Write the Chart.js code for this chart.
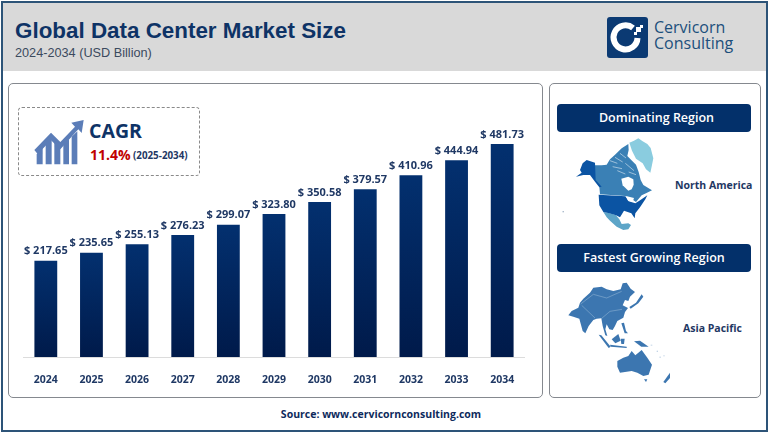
<!DOCTYPE html>
<html>
<head>
<meta charset="utf-8">
<title>Global Data Center Market Size</title>
<script src="https://cdn.jsdelivr.net/npm/chart.js@4"></script>
<style>
    html, body { margin: 0; padding: 0; background: #fff; }
    #page { position: relative; width: 768px; height: 432px; overflow: hidden; font-family: "Open Sans", sans-serif; }
    #page > * { position: absolute; }
    .frame { left: 1px; top: 1px; width: 763px; height: 427px; border: 2px solid #2d5478; z-index: 5; }
    .header { left: 2px; top: 2px; width: 764px; height: 69px; background: #d9d9d9; }
    .title { left: 15px; top: 18px; font: bold 22.4px "Liberation Sans", sans-serif; color: #0e3366; white-space: nowrap; }
    .subtitle { left: 15px; top: 46px; font: 12.7px "Liberation Sans", sans-serif; color: #3b4a5e; white-space: nowrap; }
    .brand { left: 654px; font: 16px "Open Sans", sans-serif; color: #1c4f7c; line-height: 17px; white-space: nowrap; }
    .panel { border: 1px solid #85898f; border-radius: 5px; box-sizing: border-box; background: #fff; }
    .cagr { left: 18px; top: 107px; width: 182px; height: 69px; box-sizing: border-box; border: 1px dashed #8a8a8a; border-radius: 4px; }
    .pill { left: 557px; width: 194px; height: 28px; line-height: 27px; background: #03306a; border-radius: 4px; color: #fff; font-weight: 600; font-size: 12.5px; text-align: center; }
    .region { font-weight: 700; font-size: 10.5px; color: #1f3864; white-space: nowrap; }
    .source { left: 0; width: 762px; top: 407px; text-align: center; font-weight: 700; font-size: 10.5px; color: #0e2a5c; }
    svg { display: block; }
</style>
</head>
<body>
<div id="page">
    <div class="header"></div>
    <div class="title">Global Data Center Market Size</div>
    <div class="subtitle">2024-2034 (USD Billion)</div>

    <!-- logo mark -->
    <svg style="left:607px;top:17px" width="41" height="41" viewBox="0 0 41 41">
        <rect width="41" height="41" rx="3" fill="#0b3a73"/>
        <path d="M26 11 A12 12 0 1 0 30.5 21" fill="none" stroke="#fff" stroke-width="6"/>
        <rect x="29" y="10" width="5" height="5" fill="#fff"/>
        <rect x="33" y="8" width="3" height="3" fill="#fff"/>
        <rect x="27" y="15" width="3" height="3" fill="#fff"/>
    </svg>
    <div class="brand" style="top:19px">Cervicorn</div>
    <div class="brand" style="top:35px">Consulting</div>

    <div class="panel" style="left:8px;top:83px;width:535px;height:315px"></div>
    <div class="panel" style="left:549px;top:83px;width:212px;height:315px"></div>

    <div class="cagr"></div>
    <!-- rising bars icon -->
    <svg style="left:25px;top:110px" width="65" height="60" viewBox="0 0 195 180" fill="#5b7db8">
        <path d="M35 132 L53 112 V163 H35 Z"/>
        <path d="M62 102 L80 84 V163 H62 Z"/>
        <path d="M88 92 L106 110 V163 H88 Z"/>
        <path d="M115 104 L132 88 V163 H115 Z"/>
        <path d="M140 80 L157 64 V163 H140 Z"/>
        <path d="M28 120 L78 68 L106 96 L150 50 L139 38 L176 30 L170 69 L160 58 L106 118 L78 91 L38 132 Z"/>
    </svg>
    <div style="left:89px;top:117px;font-weight:700;font-size:19.5px;line-height:28px;color:#0e3366">CAGR</div>
    <div style="left:90px;top:145px;font-weight:700;font-size:14px;line-height:20px;color:#c00000">11.4%</div>
    <div style="left:133px;top:149px;font-weight:700;font-size:9.8px;line-height:14px;color:#1f3864;white-space:nowrap">(2025-2034)</div>

    <canvas id="chart" width="502" height="280" style="left:23px;top:110px"></canvas>

    <div class="pill" style="top:104px;text-indent:5px">Dominating Region</div>
    <!-- North America: Greenland, Canada, Alaska and the lower states, Mexico -->
    <svg style="left:560px;top:130px" width="110" height="110" viewBox="0 0 330 330">
        <path fill="#8accdf" d="M208 38 L222 32 L235 25 L248 34 L262 42 L272 54 L280 85 L276 105 L271 128 L258 118 L248 100 L228 86 L216 62 Z"/>
        <path fill="#3a80b5" d="M104 106 L125 106 L140 104 L150 88 L165 74 L185 55 L205 42 L206 60 L202 78 L216 92 L228 104 L236 126 L242 150 L250 165 L276 181 L258 190 L245 196 L228 216 L214 206 L196 198 L120 193 L118 170 L105 150 Z"/>
        <path fill="none" stroke="#fff" stroke-width="1.5" d="M150 92 L172 100 M165 82 L188 96 M180 70 L198 84 M158 110 L186 116 M196 100 L222 122 M172 122 L196 132 M206 126 L228 134"/>
        <path fill="#fff" d="M184 146 L205 140 L220 148 L221 164 L215 178 L205 182 L188 166 Z"/>
        <path fill="#0b54a3" d="M60 120 L68 100 L80 90 L105 98 L107 150 L125 170 L118 172 L105 155 L90 135 L70 135 L48 140 L65 128 Z"/>
        <path fill="#5da5c8" d="M130 246 L150 250 L168 256 L178 268 L185 282 L205 280 L213 285 L205 298 L190 300 L170 290 L150 272 L140 262 Z"/>
        <path fill="#0b54a3" d="M116 194 L196 199 L206 214 L226 220 L238 212 L262 196 L256 208 L240 232 L226 250 L224 265 L214 250 L192 242 L180 262 L168 256 L148 250 L130 246 L118 226 Z"/>
        <path fill="#fff" d="M198 198 L222 204 L218 215 L204 212 Z"/>
        <path fill="#5a7a9a" d="M8 244 h3 v3 h-3 Z"/>
    </svg>
    <div class="region" style="left:675px;top:178px">North America</div>

    <div class="pill" style="top:244px">Fastest Growing Region</div>
    <!-- Asia Pacific: mainland, island chains, Australia, New Zealand -->
    <svg style="left:560px;top:276px" width="110" height="110" viewBox="0 0 330 330" fill="#3c76b0">
        <path d="M25 118 L35 105 L55 95 L60 80 L70 68 L90 50 L100 35 L125 32 L140 40 L160 45 L182 40 L188 22 L200 20 L212 38 L225 48 L210 62 L205 75 L195 72 L188 88 L204 96 L195 108 L190 125 L172 135 L165 150 L158 162 L148 160 L140 145 L136 160 L142 180 L136 178 L128 150 L124 127 L110 128 L100 132 L86 150 L76 172 L68 165 L58 128 L40 122 Z"/>
        <path fill="none" stroke="#9dbcd8" stroke-width="1.5" d="M62 84 L100 55 L140 66 L185 46 M65 88 L105 126 M124 128 L150 106 L186 100"/>
        <path d="M245 55 L250 62 L235 82 L212 98 L208 93 L228 80 Z"/>
        <path d="M184 142 L192 140 L198 165 L204 172 L194 172 Z"/>
        <path d="M116 176 L124 178 L152 212 L146 216 Z"/>
        <path d="M155 190 L175 174 L182 194 L166 202 Z"/>
        <path d="M150 206 L200 212 L200 216 L152 212 Z"/>
        <path d="M182 188 L194 188 L192 204 L184 204 Z"/>
        <path d="M222 196 L240 194 L266 212 L244 212 Z"/>
        <path d="M172 255 L190 245 L205 240 L215 225 L226 238 L245 222 L262 245 L276 266 L266 296 L250 300 L232 290 L215 285 L180 290 L172 272 Z"/>
        <path d="M252 310 L262 310 L258 318 Z"/>
        <path d="M330 290 L330 306 L316 322 L310 318 Z"/>
        <g fill="#c3d4e6">
            <rect x="272" y="206" width="5" height="3"/>
            <rect x="290" y="224" width="4" height="4"/>
            <rect x="298" y="242" width="5" height="3"/>
            <rect x="310" y="238" width="4" height="3"/>
        </g>
    </svg>
    <div class="region" style="left:683px;top:321px">Asia Pacific</div>

    <div class="source">Source: www.cervicornconsulting.com</div>
    <div class="frame"></div>
</div>

<script>
const years = ['2024', '2025', '2026', '2027', '2028', '2029', '2030', '2031', '2032', '2033', '2034'];
const marketSize = [217.65, 235.65, 255.13, 276.23, 299.07, 323.80, 350.58, 379.57, 410.96, 444.94, 481.73];

// each bar fades from navy at its top to near black-blue at the axis
function barGradient(context) {
    const chart = context.chart;
    if (!chart.chartArea) return '#03306a';
    const top = chart.scales.y.getPixelForValue(context.raw);
    const gradient = chart.ctx.createLinearGradient(0, top, 0, chart.chartArea.bottom);
    gradient.addColorStop(0, '#03306f');
    gradient.addColorStop(1, '#001a4a');
    return gradient;
}

const valueLabels = {
    id: 'valueLabels',
    afterDatasetsDraw(chart) {
        const ctx = chart.ctx;
        ctx.save();
        ctx.font = '700 11px "Open Sans"';
        ctx.fillStyle = '#1f3864';
        ctx.textAlign = 'center';
        ctx.textBaseline = 'bottom';
        chart.getDatasetMeta(0).data.forEach((bar, i) => {
            ctx.fillText('$ ' + marketSize[i].toFixed(2), bar.x, bar.y - 4);
        });
        ctx.restore();
    }
};

new Chart(document.getElementById('chart').getContext('2d'), {
    type: 'bar',
    data: {
        labels: years,
        datasets: [{
            data: marketSize,
            backgroundColor: barGradient,
            categoryPercentage: 1,
            barPercentage: 0.5
        }]
    },
    options: {
        responsive: false,
        animation: false,
        layout: { padding: { top: 26 } },
        plugins: { legend: { display: false }, tooltip: { enabled: false } },
        scales: {
            x: {
                grid: { display: false },
                border: { color: '#dcdcdc' },
                ticks: { color: '#1f3864', padding: 9, maxRotation: 0, font: { family: 'Open Sans', weight: '700', size: 10.5 } },
                afterFit(scale) { scale.height = 33; }
            },
            y: { display: false, min: 0, max: 500 }
        }
    },
    plugins: [valueLabels]
});
</script>
</body>
</html>
